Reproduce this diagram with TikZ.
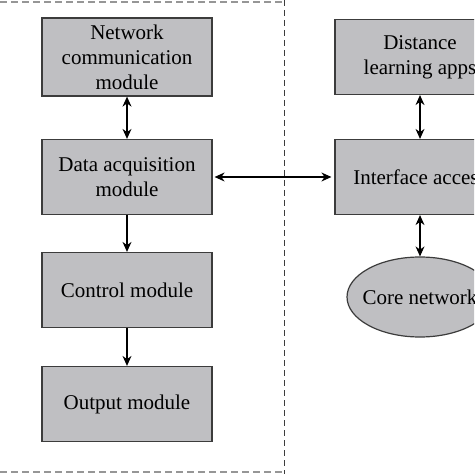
\documentclass[tikz,border=0pt]{standalone}
\usepackage{fontspec}
\setmainfont{Liberation Serif}
\usetikzlibrary{arrows.meta,shapes.geometric}
\definecolor{boxgray}{RGB}{191,191,194}
\definecolor{linegray}{RGB}{60,60,60}
\definecolor{dashgray}{RGB}{150,150,150}
\tikzset{
  modbox/.style={draw=linegray, line width=0.6pt, fill=boxgray, minimum width=85pt, minimum height=37.5pt,
    align=center, font=\fontsize{10.5}{12.5}\selectfont},
  link/.style={line width=0.6pt, -{Stealth[length=5pt,width=4.5pt]}},
  dlink/.style={line width=0.6pt, {Stealth[length=5pt,width=4.5pt]}-{Stealth[length=5pt,width=4.5pt]}}
}
\begin{document}
\begin{tikzpicture} [x=0.5pt, y=-0.5pt]
    \useasboundingbox (0,0) rectangle (474,474);
    \clip (0,0) rectangle (474,474);
    % dashed frame
    \draw [dashgray, line width=0.8pt, dash pattern=on 3.5pt off 2pt] (0,2) -- (284,2);
    \draw [dashgray, line width=0.8pt, dash pattern=on 3.5pt off 2pt] (0,472) -- (284,472);
    \draw [linegray, line width=0.5pt, dash pattern=on 3pt off 2pt] (284,0) -- (284,474);
    % left column
    \node [modbox] (net) at (127,57) {Network\\communication\\module};
    \node [modbox] (acq) at (127,177) {Data acquisition\\module};
    \node [modbox] (ctrl) at (127,290) {Control module};
    \node [modbox] (out) at (127,404) {Output module};
    % right column
    \node [modbox] (apps) at (420,57) {Distance\\learning apps};
    \node [modbox] (iface) at (420,177) {Interface access};
    \node [modbox, ellipse, inner xsep=-5pt, inner ysep=0pt, minimum width=73pt, minimum height=40pt] (core) at (420,297) {Core network};
    % connectors
    \draw [dlink] (net) -- (acq);
    \draw [link] (acq) -- (ctrl);
    \draw [link] (ctrl) -- (out);
    \draw [dlink] ([xshift=1pt]acq.east) -- ([xshift=-1.5pt]iface.west);
    \draw [dlink] (apps) -- (iface);
    \draw [dlink] (iface) -- (core);
\end{tikzpicture}
\end{document}
